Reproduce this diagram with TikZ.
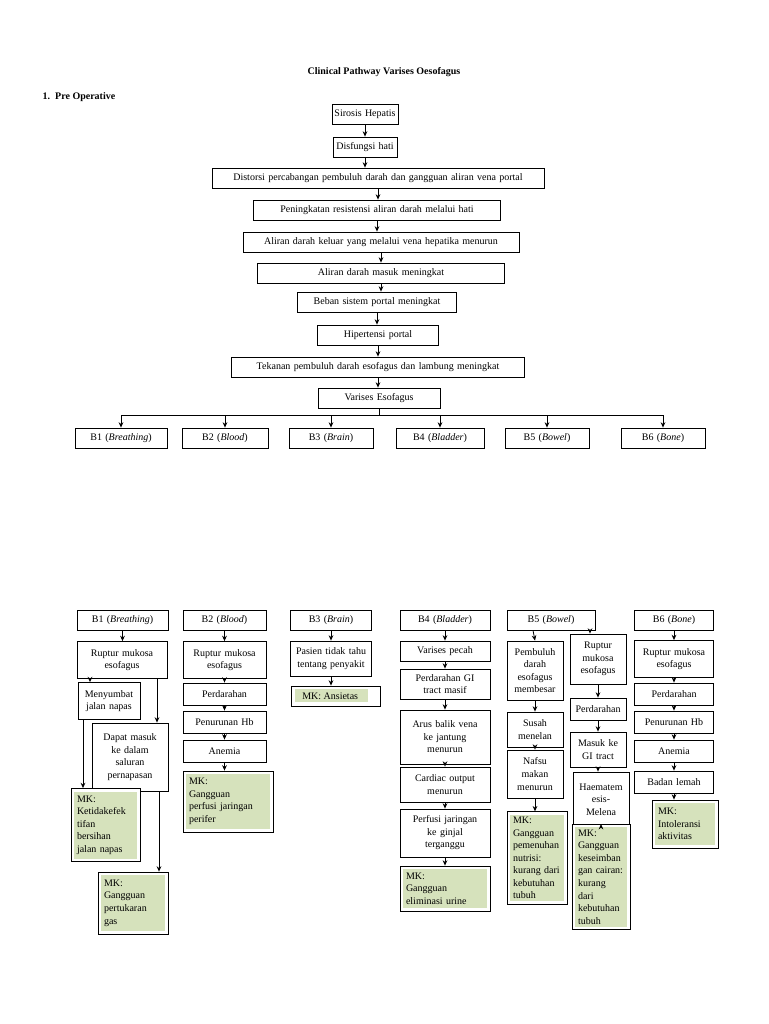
\documentclass[tikz,border=0pt]{standalone}
\usepackage{fontspec}
\setmainfont{Liberation Serif}
\usetikzlibrary{arrows.meta}
\newdimen\pxu \pxu=0.75pt
\definecolor{mkgreen}{HTML}{D6E2BC}
\tikzset{
 box/.style={draw,line width=0.6pt,inner sep=1pt,align=center,font=\fontsize{7.5}{9.4}\selectfont,fill=white},
 mk/.style={box,align=left,inner sep=4pt,path picture={\fill[mkgreen] ([shift={(3\pxu,-3\pxu)}]path picture bounding box.north west) rectangle ([shift={(-3\pxu,3\pxu)}]path picture bounding box.south east);}},
 arr/.style={line width=0.6pt,-{Stealth[length=4pt,width=3.5pt]}},
 ln/.style={line width=0.6pt}
}
\newcommand\bx[6]{\node[box,minimum width=#4\pxu,minimum height=#5\pxu,text width=\dimexpr#4\pxu-4\pxu\relax] (#1) at (#2,#3) {#6};}
\newcommand\mkbx[6]{\node[mk,minimum width=#4\pxu,minimum height=#5\pxu,text width=\dimexpr#4\pxu-12\pxu\relax] (#1) at (#2,#3) {#6};}
\newcommand\ar[2]{\draw[arr] (#1.south) -- (#1.south |- #2.north);}
\begin{document}
\begin{tikzpicture}[x=0.75pt,y=-0.75pt]
\useasboundingbox (0,0) rectangle (768,1024);
\node[font=\fontsize{7.5}{9}\selectfont\bfseries] (title) at (384,72) {Clinical Pathway Varises Oesofagus};
\node[font=\fontsize{7.5}{9}\selectfont\bfseries,anchor=west] (pre) at (38,97) {1.\ \ Pre Operative};
% top chain
\bx{s1}{365}{114}{66}{20}{Sirosis Hepatis}
\bx{s2}{365}{147}{64}{20}{Disfungsi hati}
\bx{s3}{378}{178}{332}{20}{Distorsi percabangan pembuluh darah dan gangguan aliran vena portal}
\bx{s4}{377}{210}{247}{20}{Peningkatan resistensi aliran darah melalui hati}
\bx{s5}{381}{242}{276}{20}{Aliran darah keluar yang melalui vena hepatika menurun}
\bx{s6}{381}{273}{247}{20}{Aliran darah masuk meningkat}
\bx{s7}{377}{302}{159}{20}{Beban sistem portal meningkat}
\bx{s8}{378}{335}{121}{20}{Hipertensi portal}
\bx{s9}{378}{367}{293}{20}{Tekanan pembuluh darah esofagus dan lambung meningkat}
\bx{s10}{379}{398}{122}{20}{Varises Esofagus}
\ar{s1}{s2}\ar{s2}{s3}\ar{s3}{s4}\ar{s4}{s5}\ar{s5}{s6}\ar{s6}{s7}\ar{s7}{s8}\ar{s8}{s9}\ar{s9}{s10}
\bx{a1}{121}{438}{92}{20}{B1 (\textit{Breathing})}
\bx{a2}{225}{438}{86}{20}{B2 (\textit{Blood})}
\bx{a3}{331}{438}{84}{20}{B3 (\textit{Brain})}
\bx{a4}{440}{438}{88}{20}{B4 (\textit{Bladder})}
\bx{a5}{547}{438}{84}{20}{B5 (\textit{Bowel})}
\bx{a6}{663}{438}{84}{20}{B6 (\textit{Bone})}
\coordinate (bus) at (379,415);
\draw[ln] (s10.south) -- (s10.south |- bus);
\draw[ln] (a1.north |- bus) -- (a6.north |- bus);
\foreach \n in {a1,a2,a3,a4,a5,a6} \draw[arr] (\n.north |- bus) -- (\n.north);
% lower headers
\bx{h1}{122.5}{620}{91}{20}{B1 (\textit{Breathing})}
\bx{h2}{224.5}{620}{83}{20}{B2 (\textit{Blood})}
\bx{h3}{331}{620}{81}{20}{B3 (\textit{Brain})}
\bx{h4}{445}{620}{90}{20}{B4 (\textit{Bladder})}
\bx{h5}{551}{620}{88}{20}{B5 (\textit{Bowel})}
\bx{h6}{674}{620}{79}{20}{B6 (\textit{Bone})}
% B1
\bx{r1}{122}{660}{90}{37}{Ruptur mukosa\\esofagus}
\bx{m1}{109}{701}{62}{37}{Menyumbat\\jalan napas}
\bx{d1}{130}{757}{76}{68}{Dapat masuk\\ke dalam\\saluran\\pernapasan}
\mkbx{k1}{105.5}{825}{69}{73}{MK:\\Ketidakefek\\tifan\\bersihan\\jalan napas}
\mkbx{k2}{133}{903}{70}{62}{MK:\\Gangguan\\pertukaran\\gas}
\ar{h1}{r1}
\draw[arr] ([xshift=-32\pxu]r1.south) -- ([xshift=-19\pxu]m1.north);
\draw[arr] ([xshift=35\pxu]r1.south) -- ([xshift=27\pxu]d1.north);
\draw[arr] ([xshift=-26\pxu]m1.south) -- ([xshift=-22.5\pxu]k1.north);
\draw[arr] ([xshift=29\pxu]d1.south) -- ([xshift=26\pxu]k2.north);
% B2
\bx{p1}{224.5}{660}{83}{37}{Ruptur mukosa\\esofagus}
\bx{p2}{224.5}{694}{83}{22}{Perdarahan}
\bx{p3}{224.5}{722}{83}{22}{Penurunan Hb}
\bx{p4}{224.5}{751}{83}{22}{Anemia}
\mkbx{p5}{228}{801.5}{90}{61}{MK:\\Gangguan\\perfusi jaringan\\perifer}
\ar{h2}{p1}\ar{p1}{p2}\ar{p2}{p3}\ar{p3}{p4}\draw[arr] (p4.south) -- (p4.south |- p5.north);
% B3
\bx{q1}{331}{658.5}{81}{35}{Pasien tidak tahu\\tentang penyakit}
\node[box,minimum width=89\pxu,minimum height=20\pxu,path picture={\fill[mkgreen] ([shift={(4\pxu,-3\pxu)}]path picture bounding box.north west) rectangle ([shift={(-12\pxu,4\pxu)}]path picture bounding box.south east);}] (q2) at (335.5,696) {MK: Ansietas\hspace{8pt}};
\ar{h3}{q1}\draw[arr] (q1.south) -- (q1.south |- q2.north);
% B4
\bx{u1}{445}{651}{90}{20}{Varises pecah}
\bx{u2}{445}{684}{90}{30}{Perdarahan GI\\tract masif}
\bx{u3}{445}{737}{90}{54}{Arus balik vena\\ke jantung\\menurun}
\bx{u4}{445}{784.5}{90}{35}{Cardiac output\\menurun}
\bx{u5}{445}{833}{90}{48}{Perfusi jaringan\\ke ginjal\\terganggu}
\mkbx{u6}{445}{888.5}{90}{45}{MK:\\Gangguan\\eliminasi urine}
\ar{h4}{u1}\ar{u1}{u2}\ar{u2}{u3}\ar{u3}{u4}\ar{u4}{u5}\ar{u5}{u6}
% B5
\bx{v1}{535}{670.5}{56}{59}{Pembuluh\\darah\\esofagus\\membesar}
\bx{v2}{535}{729.5}{56}{35}{Susah\\menelan}
\bx{v3}{535}{774}{56}{48}{Nafsu\\makan\\menurun}
\mkbx{v4}{537}{858}{60}{90}{MK:\\Gangguan\\pemenuhan\\nutrisi:\\kurang dari\\kebutuhan\\tubuh}
\bx{w1}{598}{659}{56}{50}{Ruptur\\mukosa\\esofagus}
\bx{w2}{598}{709}{56}{22}{Perdarahan}
\bx{w3}{598}{749.5}{56}{35}{Masuk ke\\GI tract}
\bx{w4}{601}{799.5}{56}{55}{Haematem\\esis-\\Melena}
\mkbx{w5}{601}{877}{58}{96}{MK:\\Gangguan\\keseimban\\gan cairan:\\kurang dari\\kebutuhan\\tubuh}
\draw[arr] ([xshift=-18\pxu]h5.south) -- (v1.north);
\draw[arr] ([xshift=39\pxu]h5.south) -- ([xshift=-8\pxu]w1.north);
\ar{v1}{v2}\ar{v2}{v3}\ar{v3}{v4}
\ar{w1}{w2}\ar{w2}{w3}\ar{w3}{w4}\ar{w4}{w5}
% B6
\bx{x1}{674}{659}{79}{37}{Ruptur mukosa\\esofagus}
\bx{x2}{674}{694}{79}{22}{Perdarahan}
\bx{x3}{674}{722}{79}{22}{Penurunan Hb}
\bx{x4}{674}{751}{79}{22}{Anemia}
\bx{x5}{674}{782}{79}{22}{Badan lemah}
\mkbx{x6}{685}{824}{66}{48}{MK:\\Intoleransi\\aktivitas}
\ar{h6}{x1}\ar{x1}{x2}\ar{x2}{x3}\ar{x3}{x4}\ar{x4}{x5}
\draw[arr] (x5.south) -- (x5.south |- x6.north);
\end{tikzpicture}
\end{document}
